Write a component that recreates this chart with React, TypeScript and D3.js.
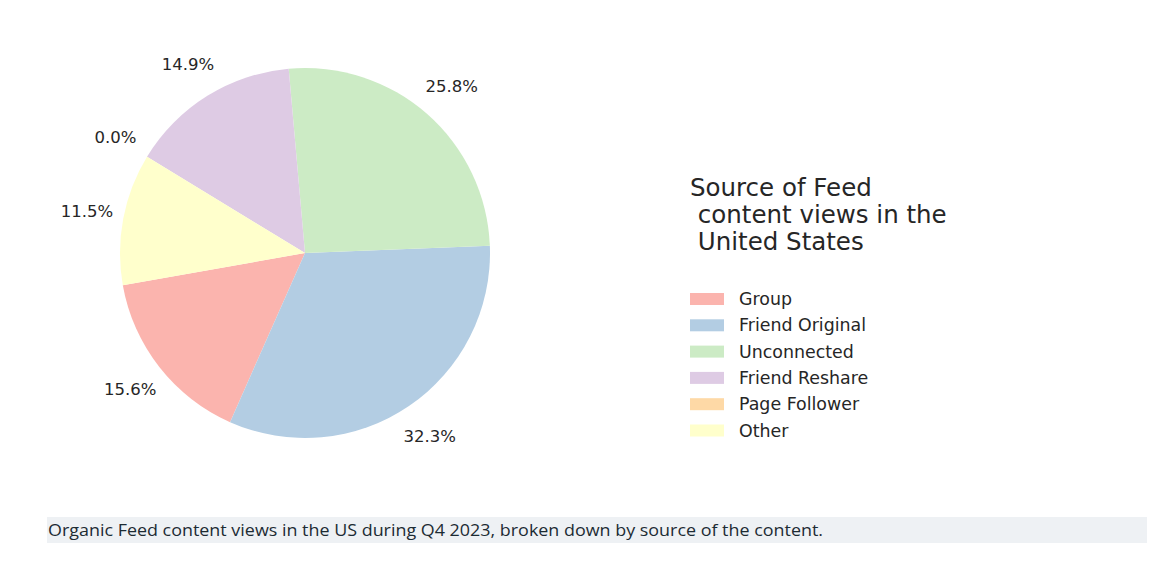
import React from "react";
import * as d3 from "d3";

const categories = ["Group", "Friend Original", "Unconnected", "Friend Reshare", "Page Follower", "Other"];
const shares = [15.6, 32.3, 25.8, 14.9, 0.0, 11.5];
const colors = ["#fbb4ae", "#b3cde3", "#ccebc5", "#decbe4", "#fed9a6", "#ffffcc"];
const titleLines = ["Source of Feed", " content views in the", " United States"];
const caption = "Organic Feed content views in the US during Q4 2023, broken down by source of the content.";

const W = 1176;
const H = 575;

const App: React.FC = () => {
  const cx = 305;
  const cy = 253;
  const r = 185;
  // matplotlib style: start at 190deg (math), counter-clockwise
  const startMath = 190;
  const toD3 = (deg: number) => ((90 - deg) * Math.PI) / 180;

  const total = d3.sum(shares);
  const slices = d3
    .pie<number>()
    .sort(null)
    .startAngle(toD3(startMath))
    .endAngle(toD3(startMath) - 2 * Math.PI)(shares);

  const arc = d3.arc<d3.PieArcDatum<number>>().innerRadius(0).outerRadius(r);

  const fontPie = "'DejaVu Sans', sans-serif";

  return (
    <svg width={W} height={H} style={{ position: "absolute", left: 0, top: 0 }}>
      <rect width={W} height={H} fill="#fff" />
      <g transform={`translate(${cx},${cy})`}>
        {slices.map((s, i) => (
          <path key={categories[i]} d={arc(s) || ""} fill={colors[i]} />
        ))}
        {slices.map((s, i) => {
          const mid = (s.startAngle + s.endAngle) / 2;
          const lr = r * 1.2;
          const x = lr * Math.sin(mid);
          const y = -lr * Math.cos(mid);
          return (
            <text
              key={"l" + i}
              x={x}
              y={y}
              textAnchor="middle"
              dominantBaseline="central"
              fontFamily={fontPie}
              fontSize={16.5}
              fill="#262626"
            >
              {((shares[i] / total) * 100).toFixed(1)}%
            </text>
          );
        })}
      </g>

      <g fontFamily={fontPie} fill="#262626">
        {titleLines.map((t, i) => (
          <text key={t} x={690} y={196 + i * 27} fontSize={24.5} style={{ whiteSpace: "pre" }}>
            {t}
          </text>
        ))}
        {categories.map((c, i) => {
          const y = 299 + i * 26.3;
          return (
            <g key={c}>
              <rect x={690} y={y - 6} width={34} height={12} fill={colors[i]} />
              <text x={739} y={y} dominantBaseline="central" fontSize={17.4}>
                {c}
              </text>
            </g>
          );
        })}
      </g>

      <rect x={47} y={517} width={1100} height={26} fill="#eef1f4" />
      <text
        x={48}
        y={536}
        fontFamily="'Open Sans', Lato, sans-serif"
        fontSize={17}
        fill="#1c2b33"
        textLength={775}
        lengthAdjust="spacingAndGlyphs"
      >
        {caption}
      </text>
    </svg>
  );
};

export default App;
